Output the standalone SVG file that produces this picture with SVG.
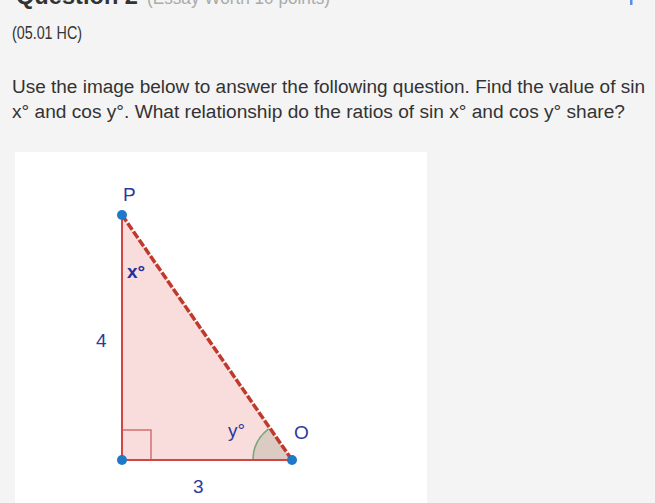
<svg xmlns="http://www.w3.org/2000/svg" width="655" height="503" viewBox="0 0 655 503">
<style>
.t{font-family:"Liberation Sans",Arial,sans-serif;fill:#333}
.lbl{font-family:"Liberation Sans",Arial,sans-serif;fill:#2b3a9c;font-size:19px}
.pt{fill:#1f78c8}
</style>
<rect width="655" height="503" fill="#f4f4f4"/>
<text class="t" x="16" y="4" font-size="23" font-weight="bold" textLength="122" lengthAdjust="spacingAndGlyphs">Question 2</text>
<text class="t" x="147" y="4" font-size="18" textLength="183" lengthAdjust="spacingAndGlyphs" style="fill:#aaa">(Essay Worth 10 points)</text>
<rect x="630" y="0" width="2.5" height="5" fill="#5b8def"/>
<text class="t" x="12" y="39" font-size="18" textLength="70" lengthAdjust="spacingAndGlyphs">(05.01 HC)</text>
<text class="t" x="12" y="93" font-size="18" textLength="633" lengthAdjust="spacingAndGlyphs">Use the image below to answer the following question. Find the value of sin</text>
<text class="t" x="12" y="118" font-size="18" textLength="613" lengthAdjust="spacingAndGlyphs">x° and cos y°. What relationship do the ratios of sin x° and cos y° share?</text>
<rect x="15" y="152" width="412" height="351" fill="#ffffff"/>
<g id="triangle">
<polygon points="122,215 122,460 292,460" fill="#f9dcdc"/>
<path d="M253,460 A39,39 0 0 1 268.6,428.8 L292,460 Z" fill="#dccbc3" stroke="none"/>
<path d="M253,460 A39,39 0 0 1 268.6,428.8" fill="none" stroke="#7aa87a" stroke-width="1.5"/>
<rect x="122" y="430" width="29" height="30" fill="none" stroke="#d07070" stroke-width="1.5"/>
<line x1="122" y1="215" x2="122" y2="460" stroke="#d04545" stroke-width="2"/>
<line x1="122" y1="460" x2="292" y2="460" stroke="#d04545" stroke-width="2"/>
<line x1="122" y1="215" x2="292" y2="460" stroke="#c0392b" stroke-width="3.5" stroke-dasharray="8,2"/>
</g>
<g id="P"><circle class="pt" cx="122" cy="215" r="5"/><text class="lbl" x="123" y="201">P</text></g>
<g id="C"><circle class="pt" cx="122" cy="460" r="5"/></g>
<g id="O"><circle class="pt" cx="292" cy="460" r="5"/><text class="lbl" x="294" y="439">O</text></g>
<text class="lbl" x="127" y="278" font-weight="bold" style="fill:#24309a">x°</text>
<text class="lbl" x="96" y="347">4</text>
<text class="lbl" x="228" y="437">y°</text>
<text class="lbl" x="193" y="493">3</text>
</svg>
